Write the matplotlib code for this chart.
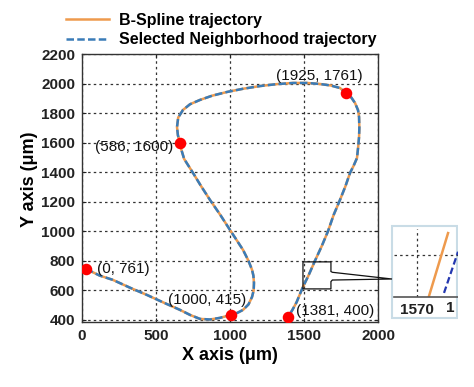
import matplotlib
matplotlib.use("Agg")
import matplotlib.pyplot as plt
from matplotlib.patches import Polygon, Rectangle

plt.rcParams['font.family'] = ['Liberation Sans', 'DejaVu Sans']

# ---- data ----
traj_x = [27, 120, 209, 320, 439, 550, 662, 730, 797, 865, 932, 1007, 1050, 1088, 1125,
          1149, 1160, 1162, 1158, 1149, 1125, 1088, 1045, 1000, 935, 865, 805, 750, 690,
          672, 662, 648, 642, 650, 682, 730, 797, 880, 980, 1090, 1203, 1315, 1426, 1520,
          1608, 1680, 1743, 1784, 1820, 1845, 1865, 1872, 1874, 1872, 1866, 1858, 1836,
          1811, 1780, 1743, 1700, 1662, 1620, 1574, 1530, 1490, 1450, 1420, 1392]
traj_y = [745, 700, 671, 620, 569, 518, 468, 434, 407, 403, 414, 434, 448, 468, 505,
          556, 600, 651, 700, 739, 800, 874, 940, 1009, 1110, 1212, 1305, 1395, 1490,
          1550, 1598, 1650, 1706, 1770, 1821, 1860, 1889, 1918, 1943, 1965, 1983, 1996, 2004, 2004,
          1997, 1987, 1970, 1936, 1905, 1868, 1820, 1774, 1700, 1638, 1570, 1496, 1445,
          1395, 1305, 1212, 1110, 1000, 900, 800, 700, 617, 520, 465, 420]

pts_x = [27, 662, 1784, 1007, 1392]
pts_y = [745, 1598, 1936, 434, 420]
pt_labels = ["(0, 761)", "(586, 1600)", "(1925, 1761)", "(1000, 415)", "(1381, 400)"]
lab_x = [101, 615, 1601, 845, 1446]
lab_y = [745, 1571, 2051, 536, 462]
lab_ha = ["left", "right", "center", "center", "left"]

xticks = [0, 500, 1000, 1500, 2000]
yticks = [400, 600, 800, 1000, 1200, 1400, 1600, 1800, 2000, 2200]

# zoomed detail (inset)
zoom_box_x = [1493, 1682]
zoom_box_y = [610, 793]
ins_bs_x = [1571.25, 1573.23]
ins_bs_y = [700.3, 718.8]
ins_sn_x = [1572.81, 1574.27]
ins_sn_y = [701.2, 713.3]
ins_xticks = [1570, 1575]
ins_xlabels = ['1570', '']
ins_cut_label = '1'          # the visible start of the next (cropped) tick label
ins_cut_label_x = 1573.5
ins_yticks = [712.5]

ORANGE = '#EE9A4D'
BLUE = '#3A7CB8'
W, H = 474, 387

fig = plt.figure(figsize=(W / 100, H / 100), dpi=100)
ax = fig.add_axes([82 / W, 1 - 322 / H, (378 - 82) / W, (322 - 54) / H])

l1, = ax.plot(traj_x, traj_y, color=ORANGE, lw=1.8, label='B-Spline trajectory', zorder=3)
l2, = ax.plot(traj_x, traj_y, color=BLUE, lw=1.8, ls=(0, (3, 1.3)),
              label='Selected Neighborhood trajectory', zorder=4)
ax.plot(pts_x, pts_y, 'o', color='#FF0000', ms=7.3, mec='#FF0000', zorder=5)
for tx, ty, t, ha in zip(lab_x, lab_y, pt_labels, lab_ha):
    ax.text(tx, ty, t, ha=ha, va='center', fontsize=11, color='#111111', zorder=6)

ax.set_xlim(0, 2000)
ax.set_ylim(386, 2200)
ax.set_xticks(xticks)
ax.set_yticks(yticks)
ax.tick_params(direction='in', length=3, width=0.8, labelsize=11, pad=5,
               top=True, right=True, colors='#222222')
for lab in ax.get_xticklabels() + ax.get_yticklabels():
    lab.set_fontweight('bold')
ax.grid(True, color='#333333', lw=0.9, ls=(0, (2, 2.5)))
for s in ax.spines.values():
    s.set_color('#333333')
    s.set_linewidth(1.0)
ax.set_xlabel('X axis (μm)', fontsize=13, fontweight='bold', labelpad=3)
ax.set_ylabel('Y axis (μm)', fontsize=13, fontweight='bold')
ax.yaxis.set_label_coords((38 - 82) / 296, 1 - (179 - 54) / 268)

fig.legend(handles=[l1, l2], loc='upper left', bbox_to_anchor=(66 / W, 1 - 13 / H),
           frameon=False, prop={'weight': 'bold', 'size': 11.5},
           handlelength=2.7, handletextpad=0.6, labelspacing=0.28, borderpad=0,
           borderaxespad=0)

# callout from the zoom box to the inset
fig.canvas.draw()
to_fig = ax.transData + fig.transFigure.inverted()
(bx0, by0) = to_fig.transform((zoom_box_x[0], zoom_box_y[0]))
(bx1, by1) = to_fig.transform((zoom_box_x[1], zoom_box_y[1]))
tipx, tipy = 392 / W, 1 - 279 / H
ym = (by0 + by1) / 2
poly = Polygon([(bx0, by1), (bx1, by1), (bx1, ym + 0.01),
                (bx1 + 0.003, ym + 0.008), (tipx, tipy), (bx1 + 0.003, ym - 0.012),
                (bx1, ym - 0.016), (bx1, by0), (bx0, by0)],
               closed=True, fill=False, edgecolor='#111111', lw=0.9,
               transform=fig.transFigure, zorder=7)
fig.add_artist(poly)

# inset frame
fig.add_artist(Rectangle((392 / W, 1 - 318 / H), (457 - 392) / W, (318 - 226) / H,
                         transform=fig.transFigure, facecolor='white',
                         edgecolor='#C9DCE6', lw=1.5, zorder=1))
ins = fig.add_axes([394 / W, 1 - 297 / H, (490 - 394) / W, (297 - 229) / H])
ins.set_zorder(8)
ins.plot(ins_bs_x, ins_bs_y, color=ORANGE, lw=1.8)
ins.plot(ins_sn_x, ins_sn_y, color='#2438B0', lw=1.6, ls=(0, (3, 1.5)))
ins.set_xlim(1567.6, 1577.6)
ins.set_ylim(700, 720)
ins.set_xticks(ins_xticks)
ins.set_xticklabels(ins_xlabels)
ins.set_yticks(ins_yticks)
ins.tick_params(length=0, labelsize=11, pad=4, labelleft=False, colors='#222222')
for lab in ins.get_xticklabels():
    lab.set_fontweight('bold')
ins.text(ins_cut_label_x, -4 / 68, ins_cut_label, transform=ins.get_xaxis_transform(),
         ha='center', va='top', fontsize=11, fontweight='bold', color='#222222')
ins.grid(True, color='#333333', lw=0.9, ls=(0, (2, 2.5)))
for k, s in ins.spines.items():
    s.set_visible(k == 'bottom')
ins.spines['bottom'].set_color('#555555')
ins.spines['bottom'].set_linewidth(1.2)
ins.patch.set_alpha(0)

# the picture is cropped just right of the inset
cover = Rectangle((458 / W, 0), (W - 458) / W, 1, transform=fig.transFigure,
                  facecolor='white', edgecolor='none', zorder=20)
fig.add_artist(cover)

fig.savefig('out.png', dpi=100)
